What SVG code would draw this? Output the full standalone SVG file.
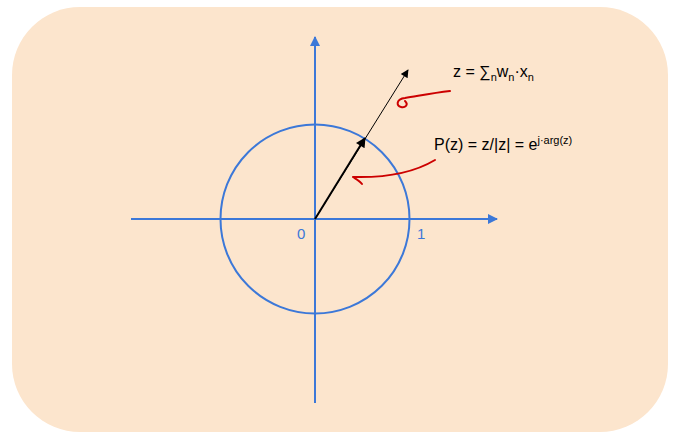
<svg xmlns="http://www.w3.org/2000/svg" width="679" height="441" viewBox="0 0 679 441">
<defs>
<style>
.ax{stroke:#3c78d8;stroke-width:2;fill:none}
.red{stroke:#cc0000;stroke-width:2;fill:none;stroke-linecap:round;stroke-linejoin:round}
.t{font-family:"Liberation Sans",Arial,sans-serif;font-size:16px;fill:#000}
.b{font-family:"Liberation Sans",Arial,sans-serif;font-size:15px;fill:#3c78d8}
</style>
<marker id="ba" viewBox="0 0 10 10" refX="9" refY="5" markerWidth="6" markerHeight="5" orient="auto" markerUnits="strokeWidth"><path d="M0,0 L10,5 L0,10 z" fill="#3c78d8"/></marker>
<marker id="ka" viewBox="0 0 10 10" refX="9" refY="5" markerWidth="6" markerHeight="5" orient="auto" markerUnits="strokeWidth"><path d="M0,0 L10,5 L0,10 z" fill="#000"/></marker>
<marker id="kt" viewBox="0 0 10 10" refX="9" refY="5" markerWidth="10" markerHeight="8" orient="auto" markerUnits="strokeWidth"><path d="M0,0 L10,5 L0,10 z" fill="#000"/></marker>
</defs>
<rect id="bg" x="12" y="7" width="656" height="425" rx="68" ry="68" fill="#fce5cd"/>
<g id="circle"><circle cx="315" cy="219" r="94.5" class="ax"/></g>
<g id="connectors">
<line x1="131" y1="219" x2="497" y2="219" class="ax" marker-end="url(#ba)"/>
<line x1="315" y1="403" x2="315" y2="37" class="ax" marker-end="url(#ba)"/>
<line x1="315" y1="219" x2="408" y2="70" stroke="#000" stroke-width="1" marker-end="url(#kt)"/>
<line x1="315" y1="219" x2="365" y2="138" stroke="#000" stroke-width="2" marker-end="url(#ka)"/>
<path class="red" d="M450,91 C432,93 418,96 405,98 C396,99 396,106 401,107 C405,108 409,105 405,101"/>
<path class="red" d="M435,160 C415,172 390,178 353,177 M353,177 C356,179 360,181 362,184"/>
</g>
<g id="labels">
<text class="t" x="453" y="77">z = ∑<tspan font-size="11" dy="4">n</tspan><tspan dy="-4">w</tspan><tspan font-size="11" dy="4">n</tspan><tspan dy="-4">·x</tspan><tspan font-size="11" dy="4">n</tspan></text>
<text class="t" x="434" y="150">P(z) = z/|z| = e<tspan font-size="11" dy="-6">j·arg(z)</tspan></text>
<text class="b" x="297" y="239">0</text>
<text class="b" x="417" y="239">1</text>
</g>
</svg>
